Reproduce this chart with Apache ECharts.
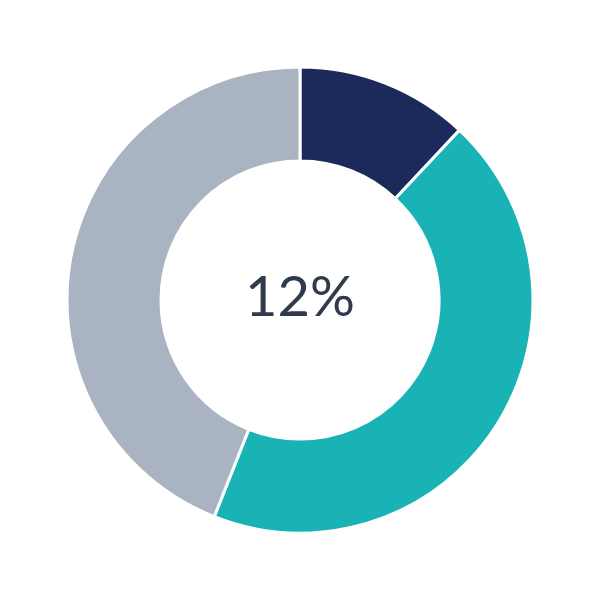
<!DOCTYPE html>
<html><head><meta charset="utf-8">
<script src="https://cdn.jsdelivr.net/npm/echarts@6/dist/echarts.min.js"></script>
<style>html,body{margin:0;padding:0;background:#fff}#c{width:600px;height:600px}</style>
</head><body><div id="c"></div>
<script>
const names = ['A', 'B', 'C'];
const values = [12, 44, 44];
const colors = ['#1b2a5a', '#1ab3b5', '#a9b3c2'];
const centerLabel = '12%';

const chart = echarts.init(document.getElementById('c'), null, {renderer: 'canvas'});
chart.setOption({
  animation: false,
  backgroundColor: '#ffffff',
  graphic: [{
    type: 'text', left: 'center', top: 270,
    style: {text: centerLabel, fontFamily: 'Lato', fontSize: 56, fontWeight: 'normal', fill: '#2f3b4b'}
  }],
  series: [{
    type: 'pie',
    center: [300, 300],
    radius: [139, 233],
    startAngle: 90,
    clockwise: true,
    label: {show: false},
    labelLine: {show: false},
    itemStyle: {borderColor: '#ffffff', borderWidth: 3},
    data: names.map((n, i) => ({name: n, value: values[i], itemStyle: {color: colors[i]}}))
  }]
});
</script></body></html>
